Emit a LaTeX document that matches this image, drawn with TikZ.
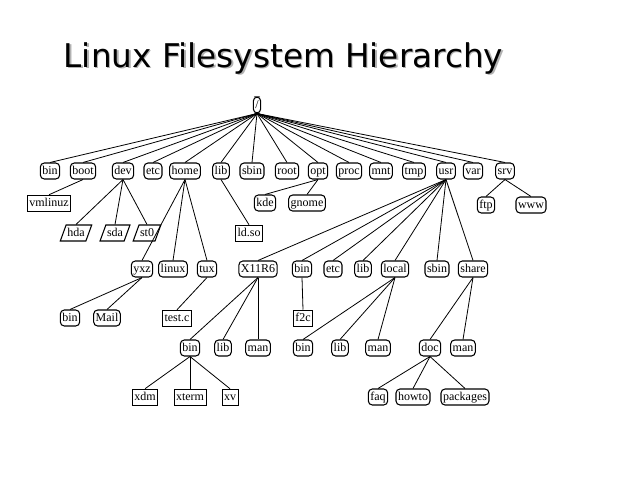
\documentclass[tikz,border=0pt]{standalone}
\usepackage{fontspec}
\setmainfont{Liberation Serif}
\newfontfamily\titlefont{DejaVu Sans}
\usetikzlibrary{shapes.geometric}

\begin{document}
\begin{tikzpicture}[x=0.75pt, y=-0.75pt,
        dirnode/.style={draw, thick, rounded corners=3pt, inner sep=1.5pt, minimum height=12pt, text height=6pt, text depth=1.5pt, font=\small},
        filenode/.style={draw, inner sep=1.5pt, minimum height=12pt, text height=6pt, text depth=1.5pt, font=\small},
        devnode/.style={draw, thick, trapezium, trapezium left angle=70, trapezium right angle=110, inner xsep=0pt, inner ysep=1.5pt, minimum height=12pt, text height=6pt, text depth=1.5pt, font=\small},
        edge/.style={semithick},
]
        \useasboundingbox (0,0) rectangle (638,479);
        \node[text=gray!60, font=\titlefont\fontsize{24.5}{28}\selectfont] at (285,59.5) {Linux Filesystem Hierarchy};
        \node[font=\titlefont\fontsize{24.5}{28}\selectfont] at (283.5,58) {Linux Filesystem Hierarchy};

        \node[dirnode] (rt) at (257,105) {/};
        % top level
        \foreach \n/\t/\x in {bin/bin/50, boot/boot/83, dev/dev/123, etc/etc/153, home/home/185,
                lib/lib/221, sbin/sbin/252, root/root/287, opt/opt/318, proc/proc/349,
                mnt/mnt/381, tmp/tmp/414, usr/usr/446, var/var/473, srv/srv/505} {
            \node[dirnode] (\n) at (\x,171) {\t};
            \draw[edge] (rt.south) -- (\n.north);
        }
        \node[filenode] (vmlinuz) at (49,203) {vmlinuz};
        \node[dirnode] (kde) at (265,203) {kde};
        \node[dirnode] (gnome) at (307,203) {gnome};
        \node[dirnode] (ftp) at (486,205) {ftp};
        \node[dirnode] (www) at (531,205) {www};
        \node[devnode] (hda) at (76,233) {hda};
        \node[devnode] (sda) at (115,233) {sda};
        \node[devnode] (st0) at (147,233) {st0};
        \node[filenode] (ldso) at (249,233) {ld.so};

        % home and usr
        \node[dirnode] (yxz) at (142,269) {yxz};
        \node[dirnode] (linux) at (173,269) {linux};
        \node[dirnode] (tux) at (207,269) {tux};
        \foreach \n/\t/\x in {xr/X11R6/258, ubin/bin/302, uetc/etc/333, ulib/lib/363,
                local/local/395, usbin/sbin/437, share/share/473} {
            \node[dirnode] (\n) at (\x,269) {\t};
            \draw[edge] (usr.south) -- (\n.north);
        }
        \node[dirnode] (ybin) at (70,318) {bin};
        \node[dirnode] (mail) at (107,318) {Mail};
        \node[filenode] (testc) at (177,318) {test.c};
        \node[filenode] (ftwoc) at (303,318) {f2c};

        \node[dirnode] (xbin) at (190,348) {bin};
        \node[dirnode] (xlib) at (223,348) {lib};
        \node[dirnode] (xman) at (258,348) {man};
        \node[dirnode] (lbin) at (303,348) {bin};
        \node[dirnode] (llib) at (340,348) {lib};
        \node[dirnode] (lman) at (378,348) {man};
        \node[dirnode] (doc) at (430,348) {doc};
        \node[dirnode] (sman) at (463,348) {man};

        \node[filenode] (xdm) at (145,397) {xdm};
        \node[filenode] (xterm) at (190,397) {xterm};
        \node[filenode] (xv) at (230,397) {xv};
        \node[dirnode] (faq) at (378,397) {faq};
        \node[dirnode] (howto) at (413,397) {howto};
        \node[dirnode] (packages) at (465,397) {packages};

        \foreach \a/\b in {boot/vmlinuz, dev/hda, dev/sda, dev/st0, lib/ldso, opt/kde, opt/gnome,
                srv/ftp, srv/www, home/yxz, home/linux, home/tux, yxz/ybin, yxz/mail, tux/testc,
                ubin/ftwoc, xr/xbin, xr/xlib, xr/xman, local/lbin, local/llib, local/lman,
                share/doc, share/sman, xbin/xdm, xbin/xterm, xbin/xv, doc/faq, doc/howto, doc/packages}
            \draw[edge] (\a.south) -- (\b.north);
\end{tikzpicture}
\end{document}
